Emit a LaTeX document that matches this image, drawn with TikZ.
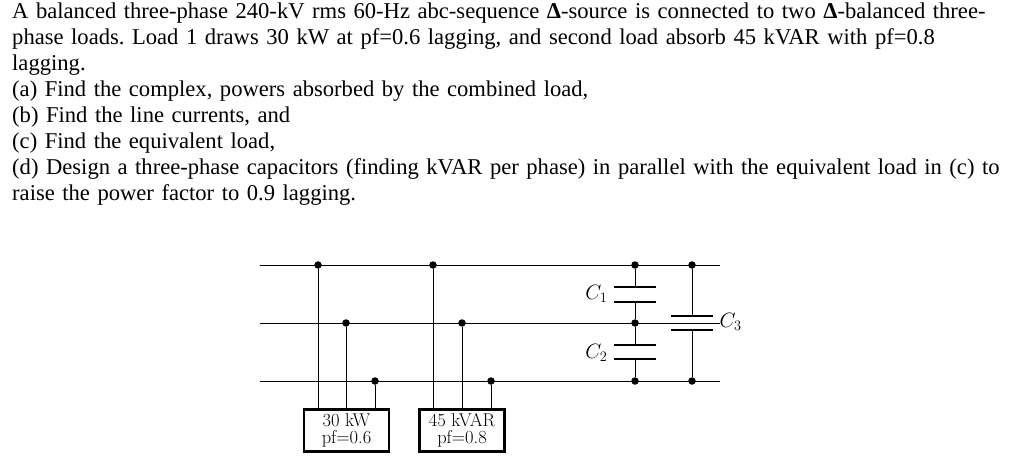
\documentclass[tikz,border=0pt]{standalone}
\usepackage{fontspec}
\newfontfamily\tnr{Liberation Serif}
\begin{document}
\begin{tikzpicture}[x=1pt,y=-1pt,
  wire/.style={line width=0.7pt},
  dot/.style={circle,fill,inner sep=0pt,minimum size=7.5pt},
  plate/.style={line width=2.6pt},
  lbl/.style={font=\fontsize{20}{20}\selectfont},
  loadbox/.style={draw,line width=2.6pt,minimum width=85pt,minimum height=42pt,font=\fontsize{18.5}{17}\selectfont,align=center,inner sep=1pt}]
\useasboundingbox (0,0) rectangle (1024,465);
\node[anchor=north west,inner sep=0pt,text width=1005pt,font=\tnr\fontsize{22.6}{26}\selectfont\frenchspacing] (txt) at (12,3) {%
A balanced three-phase 240-kV rms 60-Hz abc-sequence \textbf{Δ}-source is connected to two \textbf{Δ}-balanced three-\hspace{22pt}\linebreak
phase loads. Load 1 draws 30 kW at pf=0.6 lagging, and second load absorb 45 kVAR with pf=0.8\hspace{42pt}\linebreak
lagging.\\
(a) Find the complex, powers absorbed by the combined load,\\
(b) Find the line currents, and\\
(c) Find the equivalent load,\\
(d) Design a three-phase capacitors (finding kVAR per phase) in parallel with the equivalent load in (c) to\\
raise the power factor to 0.9 lagging.};
% lines
\coordinate (aL) at (260,265); \coordinate (aR) at (720,265);
\coordinate (bL) at (260,323); \coordinate (bR) at (720,323);
\coordinate (cL) at (260,381); \coordinate (cR) at (720,381);
\draw[wire] (aL)--(aR); \draw[wire] (bL)--(bR); \draw[wire] (cL)--(cR);
% loads
\node[loadbox] (L1) at (346.5,430.5) {30 kW\\pf=0.6};
\node[loadbox] (L2) at (462,430.5) {45 kVAR\\pf=0.8};
\node[dot] (d1) at (318,265) {}; \node[dot] (d2) at (346,323) {}; \node[dot] (d3) at (375,381) {};
\node[dot] (d4) at (433,265) {}; \node[dot] (d5) at (462,323) {}; \node[dot] (d6) at (491,381) {};
\draw[wire] (d1) -- (d1 |- L1.north); \draw[wire] (d2) -- (d2 |- L1.north); \draw[wire] (d3) -- (d3 |- L1.north);
\draw[wire] (d4) -- (d4 |- L2.north); \draw[wire] (d5) -- (d5 |- L2.north); \draw[wire] (d6) -- (d6 |- L2.north);
% capacitors C1, C2
\node[dot] (e1) at (635,265) {}; \node[dot] (e2) at (635,323) {}; \node[dot] (e3) at (635,381) {};
\coordinate (c1a) at (635,287); \coordinate (c1b) at (635,302);
\coordinate (c2a) at (635,345); \coordinate (c2b) at (635,359);
\draw[wire] (e1)--(c1a) (c1b)--(e2)--(c2a) (c2b)--(e3);
\draw[plate] ([xshift=-21pt]c1a)--([xshift=21pt]c1a) ([xshift=-21pt]c1b)--([xshift=21pt]c1b);
\draw[plate] ([xshift=-21pt]c2a)--([xshift=21pt]c2a) ([xshift=-21pt]c2b)--([xshift=21pt]c2b);
\node[anchor=east,lbl] (C1) at (611,294) {$C_1$};
\node[anchor=east,lbl] (C2) at (611,353) {$C_2$};
% C3
\node[dot] (f1) at (692,265) {}; \node[dot] (f3) at (692,381) {};
\coordinate (c3a) at (692,316); \coordinate (c3b) at (692,330);
\draw[wire] (f1)--(c3a) (c3b)--(f3);
\draw[plate] ([xshift=-21pt]c3a)--([xshift=21pt]c3a) ([xshift=-21pt]c3b)--([xshift=21pt]c3b);
\node[anchor=west,lbl] (C3) at (716,322) {$C_3$};
\end{tikzpicture}
\end{document}
